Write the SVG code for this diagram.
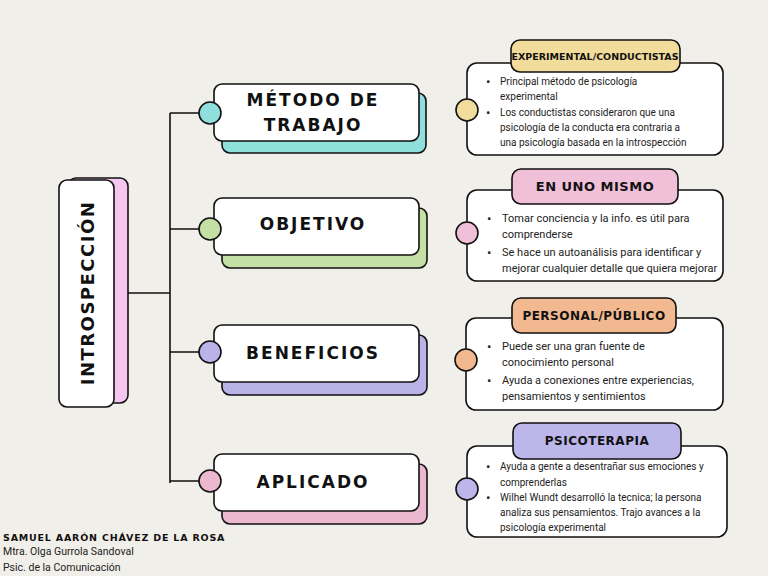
<svg xmlns="http://www.w3.org/2000/svg" width="768" height="576" viewBox="0 0 768 576">
<style>
.o{stroke:#111;stroke-width:1.6}
.w{fill:#fff}
.h{font-family:"DejaVu Sans",sans-serif;font-weight:bold;fill:#111;text-anchor:middle;letter-spacing:2px;font-size:17px}
.t{font-family:"DejaVu Sans",sans-serif;font-weight:bold;fill:#111;text-anchor:middle;letter-spacing:0.5px}
.b{font-family:Roboto,"Liberation Sans",sans-serif;fill:#222}
.d{font-size:13px}
.l{stroke:#111;stroke-width:1.6;fill:none}
</style>
<rect width="768" height="576" fill="#f1efe9"/>
<g id="connectors">
<path class="l" d="M128 293H170M170 113V483M170 113H200M170 229H200M170 352H200M170 481H200"/>
</g>
<g id="introspeccion">
<rect x="68" y="178" width="60" height="225" rx="8" fill="#f5c6f0" class="o"/>
<rect x="59" y="180" width="55" height="227" rx="8" class="w o"/>
<text class="h" style="font-size:18px;letter-spacing:1.5px" transform="translate(94,293) rotate(-90)">INTROSPECCIÓN</text>
</g>
<g id="metodo">
<rect x="222" y="93" width="204" height="60" rx="8" fill="#8fdfdc" class="o"/>
<rect x="214" y="84" width="205" height="57" rx="8" class="w o"/>
<circle cx="210" cy="113" r="11" fill="#8fdfdc" class="o"/>
<text class="h" x="313" y="106">MÉTODO DE</text>
<text class="h" x="313" y="131">TRABAJO</text>
</g>
<g id="objetivo">
<rect x="222" y="208" width="205" height="60" rx="8" fill="#c5e0a5" class="o"/>
<rect x="214" y="198" width="205" height="57" rx="8" class="w o"/>
<circle cx="210" cy="229" r="11" fill="#c5e0a5" class="o"/>
<text class="h" x="313" y="230">OBJETIVO</text>
</g>
<g id="beneficios">
<rect x="222" y="335" width="205" height="60" rx="8" fill="#b9b3e8" class="o"/>
<rect x="214" y="325" width="205" height="57" rx="8" class="w o"/>
<circle cx="210" cy="352" r="11" fill="#b9b3e8" class="o"/>
<text class="h" x="313" y="359">BENEFICIOS</text>
</g>
<g id="aplicado">
<rect x="222" y="464" width="205" height="60" rx="8" fill="#ebb8d0" class="o"/>
<rect x="214" y="454" width="205" height="57" rx="8" class="w o"/>
<circle cx="210" cy="481" r="11" fill="#ebb8d0" class="o"/>
<text class="h" x="313" y="488">APLICADO</text>
</g>
<g id="experimental">
<rect x="467" y="63" width="256" height="92" rx="10" class="w o"/>
<circle cx="467" cy="110" r="11" fill="#f2dc9b" class="o"/>
<rect x="511" y="40" width="169" height="32" rx="9" fill="#f2dc9b" class="o"/>
<text class="t" x="595" y="60" style="font-size:9.5px;letter-spacing:0">EXPERIMENTAL/CONDUCTISTAS</text>
<text class="b" style="font-size:10px"><tspan class="d" x="486" y="86">•</tspan><tspan x="500" y="85">Principal método de psicología</tspan><tspan x="500" y="100">experimental</tspan><tspan class="d" x="486" y="117">•</tspan><tspan x="500" y="116">Los conductistas consideraron que una</tspan><tspan x="500" y="131">psicología de la conducta era contraria a</tspan><tspan x="500" y="146">una psicología basada en la introspección</tspan></text>
</g>
<g id="enunomismo">
<rect x="467" y="190" width="256" height="91" rx="10" class="w o"/>
<circle cx="467" cy="233" r="11" fill="#f0c0d8" class="o"/>
<rect x="512" y="169" width="166" height="35" rx="9" fill="#f0c0d8" class="o"/>
<text class="t" x="595" y="191" style="font-size:13px">EN UNO MISMO</text>
<text class="b" style="font-size:11px"><tspan class="d" x="487" y="223">•</tspan><tspan x="502" y="222">Tomar conciencia y la info. es útil para</tspan><tspan x="502" y="238">comprenderse</tspan><tspan class="d" x="487" y="257">•</tspan><tspan x="502" y="256">Se hace un autoanálisis para identificar y</tspan><tspan x="502" y="272">mejorar cualquier detalle que quiera mejorar</tspan></text>
</g>
<g id="personal">
<rect x="466" y="318" width="257" height="92" rx="10" class="w o"/>
<circle cx="466" cy="360" r="11" fill="#f2b88f" class="o"/>
<rect x="512" y="298" width="164" height="35" rx="9" fill="#f2b88f" class="o"/>
<text class="t" x="594" y="320" style="font-size:12px">PERSONAL/PÚBLICO</text>
<text class="b" style="font-size:11px"><tspan class="d" x="487" y="351">•</tspan><tspan x="502" y="350">Puede ser una gran fuente de</tspan><tspan x="502" y="366">conocimiento personal</tspan><tspan class="d" x="487" y="385">•</tspan><tspan x="502" y="384">Ayuda a conexiones entre experiencias,</tspan><tspan x="502" y="400">pensamientos y sentimientos</tspan></text>
</g>
<g id="psicoterapia">
<rect x="467" y="446" width="260" height="91" rx="10" class="w o"/>
<circle cx="467" cy="489" r="11" fill="#bcb6ea" class="o"/>
<rect x="513" y="423" width="168" height="36" rx="9" fill="#bcb6ea" class="o"/>
<text class="t" x="597" y="445" style="font-size:12px">PSICOTERAPIA</text>
<text class="b" style="font-size:10px"><tspan class="d" x="486" y="471">•</tspan><tspan x="500" y="470">Ayuda a gente a desentrañar sus emociones y</tspan><tspan x="500" y="486">comprenderlas</tspan><tspan class="d" x="486" y="502">•</tspan><tspan x="500" y="501">Wilhel Wundt desarrolló la tecnica; la persona</tspan><tspan x="500" y="516">analiza sus pensamientos. Trajo avances a la</tspan><tspan x="500" y="531">psicología experimental</tspan></text>
</g>
<g id="credits">
<text font-family="DejaVu Sans,sans-serif" font-weight="bold" font-size="9.5" x="3" y="541" fill="#111" letter-spacing="0.8">SAMUEL AARÓN CHÁVEZ DE LA ROSA</text>
<text class="b" style="font-size:10.5px" x="3" y="555">Mtra. Olga Gurrola Sandoval</text>
<text class="b" style="font-size:10.5px" x="3" y="571">Psic. de la Comunicación</text>
</g>
</svg>
